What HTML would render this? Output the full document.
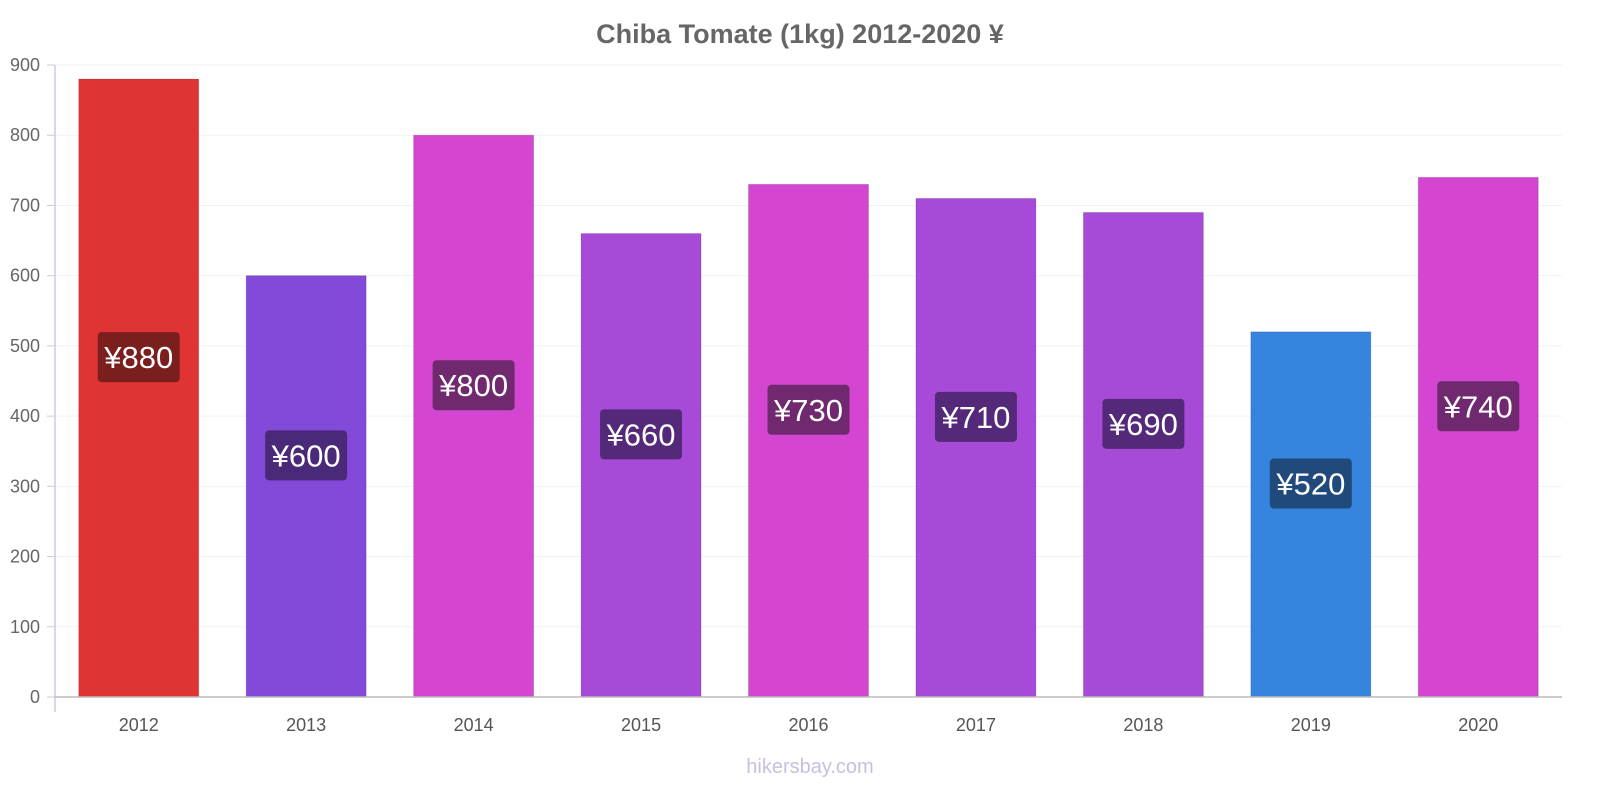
<!DOCTYPE html>
<html><head><meta charset="utf-8">
<style>
body{margin:0;background:#fff;font-family:"Liberation Sans",Arial,sans-serif;}
svg{display:block}
</style></head>
<body>
<svg id="chart" width="1600" height="800" viewBox="0 0 1600 800" xmlns="http://www.w3.org/2000/svg">
<text x="800" y="43" text-anchor="middle" font-size="27" font-weight="bold" fill="#666">Chiba Tomate (1kg) 2012-2020 ¥</text>
<g id="grid"></g>
<g id="bars"></g>
<g id="axes"></g>
<text x="810" y="773" text-anchor="middle" font-size="20" fill="#c9bfe0">hikersbay.com</text>
</svg>
<script>
const categories=["2012","2013","2014","2015","2016","2017","2018","2019","2020"];
const values=[880,600,800,660,730,710,690,520,740];
const labels=["¥880","¥600","¥800","¥660","¥730","¥710","¥690","¥520","¥740"];
const yTicks=[0,100,200,300,400,500,600,700,800,900];
const barColors=["#e03434","#8349d8","#d445d2","#a84ad8","#d445d2","#a84ad8","#a84ad8","#3584de","#d445d2"];
const labelColors=["#7a1e1e","#4a2a78","#70296f","#55297a","#70296f","#55297a","#55297a","#1f4a7a","#70296f"];

const NS="http://www.w3.org/2000/svg";
const plotLeft=55,plotRight=1562,plotTop=65,plotBottom=697,yMax=900;
const band=(plotRight-plotLeft)/categories.length;
const yScale=v=>plotBottom-(v/yMax)*(plotBottom-plotTop);
const xc=i=>plotLeft+band*(i+0.5);
function mk(tag,attrs,parent){const e=document.createElementNS(NS,tag);for(const k in attrs)e.setAttribute(k,attrs[k]);parent.appendChild(e);return e;}
const gridG=document.getElementById('grid'),barsG=document.getElementById('bars'),axesG=document.getElementById('axes');
yTicks.forEach(t=>{
  const g=mk('line',{x1:plotLeft,x2:plotRight,y1:yScale(t),y2:yScale(t),stroke:'#f2f2f2','stroke-width':1},gridG);
  
  
  const tm=mk('line',{x1:plotLeft-8,x2:plotLeft,y1:yScale(t),y2:yScale(t),stroke:'#ccc'},axesG);
  
  
  const tx=mk('text',{x:40,y:yScale(t)+6,'text-anchor':'end','font-size':18,fill:'#666'},axesG);
  tx.textContent=t;
  
  
});
const ya=mk('line',{x1:plotLeft,x2:plotLeft,y1:plotTop,y2:712,stroke:'#d6c6e6','stroke-width':1.5},axesG);


const xa=mk('line',{x1:plotLeft,x2:plotRight,y1:plotBottom,y2:plotBottom,stroke:'#bbb','stroke-width':1.5},axesG);


const bw=120;
categories.forEach((c,i)=>{
  const cx=xc(i);
  const r=mk('rect',{x:cx-bw/2,y:yScale(values[i]),width:bw,height:plotBottom-yScale(values[i]),fill:barColors[i],stroke:'rgba(0,0,0,0.15)','stroke-width':1},barsG);
  
  
  const ly=yScale(values[i]/2+44);
  const lb=mk('rect',{x:cx-41,y:ly-25,width:82,height:50,rx:4,fill:labelColors[i]},barsG);
  
  
  const lt=mk('text',{x:cx,y:ly+11,'text-anchor':'middle','font-size':31,fill:'#fff'},barsG);
  lt.textContent=labels[i];
  
  
  const xt=mk('text',{x:cx,y:731,'text-anchor':'middle','font-size':18,fill:'#555'},axesG);
  xt.textContent=c;
  
  
});
</script>
</body></html>
